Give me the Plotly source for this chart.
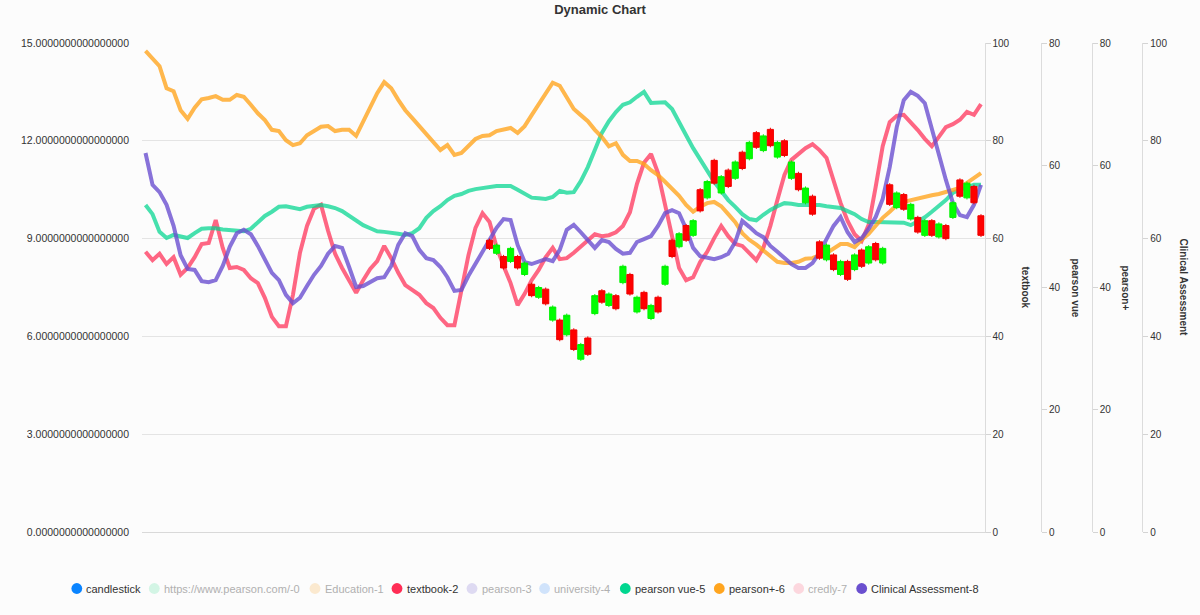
import plotly.graph_objects as go

# ---------------- data ----------------
categories = list(range(120))
candle_categories = categories[49:]

textbook = [57.3, 55.6, 56.9, 54.8, 56.2, 52.6, 54.0, 56.2, 58.9, 59.1,
            63.8, 58.1, 54.0, 54.2, 53.6, 51.9, 50.9, 47.9, 44.0, 42.1,
            42.1, 48.5, 57.1, 62.6, 66.1, 66.9, 61.6, 56.9, 54.0, 51.3,
            48.9, 51.5, 53.8, 55.4, 58.5, 56.0, 53.0, 50.5, 49.5, 48.5,
            46.8, 45.8, 43.8, 42.3, 42.3, 49.9, 56.6, 62.2, 65.2, 63.4,
            58.3, 54.4, 50.9, 46.4, 48.7, 51.5, 53.6, 56.2, 58.1, 55.8,
            56.0, 57.1, 58.3, 59.7, 60.9, 60.5, 60.7, 61.3, 62.6, 65.4,
            71.2, 75.5, 77.3, 73.4, 66.9, 59.7, 54.0, 51.5, 52.1, 55.2,
            57.3, 60.1, 62.6, 60.5, 58.9, 58.5, 57.1, 55.6, 58.1, 62.6,
            67.9, 73.0, 76.1, 77.3, 78.5, 79.3, 78.1, 76.5, 71.6, 67.3,
            63.6, 60.9, 59.5, 62.8, 70.6, 78.9, 83.8, 85.1, 85.3, 83.8,
            82.2, 80.4, 78.9, 80.8, 82.8, 83.4, 84.3, 85.9, 85.3, 87.5]

pearson_vue = [53.5, 52.0, 49.1, 48.1, 48.6, 48.3, 48.1, 48.9, 49.6, 49.7,
               49.7, 49.5, 49.4, 49.2, 49.2, 49.6, 50.7, 51.7, 52.4, 53.2,
               53.3, 53.0, 52.8, 53.2, 53.3, 53.5, 53.3, 53.0, 52.5, 51.7,
               50.9, 50.2, 49.7, 49.2, 49.1, 49.0, 48.8, 48.6, 48.9, 49.7,
               51.4, 52.5, 53.3, 54.3, 55.0, 55.3, 55.8, 56.1, 56.3, 56.4,
               56.6, 56.6, 56.6, 56.0, 55.3, 54.7, 54.6, 54.5, 54.8, 55.8,
               55.5, 55.6, 57.4, 59.7, 62.5, 65.3, 67.2, 68.7, 69.9, 70.3,
               71.2, 72.0, 70.2, 70.3, 70.3, 69.2, 66.9, 64.9, 62.8, 60.9,
               58.9, 57.3, 55.8, 54.3, 53.2, 52.0, 51.2, 51.0, 51.9, 52.7,
               53.3, 53.8, 53.7, 53.5, 53.5, 53.5, 53.5, 53.3, 53.2, 53.0,
               52.5, 52.0, 51.2, 50.7, 50.7, 50.7, 50.7, 50.7, 50.6, 50.2,
               50.9, 51.5, 52.4, 53.3, 54.3, 55.5, 56.0, 56.4, 56.8, 56.8]

pearson_plus = [78.7, 77.5, 76.2, 72.6, 72.1, 69.0, 67.6, 69.4, 70.8, 71.0,
                71.3, 70.7, 70.7, 71.5, 71.2, 69.9, 68.5, 67.4, 65.8, 65.6,
                64.1, 63.3, 63.6, 64.9, 65.6, 66.3, 66.4, 65.6, 65.8, 65.8,
                64.8, 67.1, 69.4, 71.8, 73.6, 72.6, 70.7, 69.0, 67.7, 66.4,
                65.3, 63.8, 62.5, 63.3, 61.7, 62.0, 63.1, 64.3, 64.8, 64.9,
                65.6, 65.8, 66.1, 65.3, 66.4, 68.2, 70.0, 71.8, 73.5, 73.0,
                71.0, 69.2, 68.2, 67.2, 65.8, 64.6, 63.1, 63.6, 61.7, 60.7,
                60.7, 60.2, 59.2, 58.4, 57.3, 56.1, 55.0, 53.5, 52.4, 53.2,
                53.8, 54.0, 53.3, 52.0, 50.7, 48.9, 47.8, 47.0, 46.1, 45.2,
                44.2, 44.0, 44.0, 44.2, 44.7, 44.8, 45.3, 45.6, 46.3, 47.1,
                47.1, 46.6, 47.8, 48.8, 50.1, 51.4, 52.4, 53.5, 54.0, 54.3,
                54.5, 54.8, 55.1, 55.3, 55.6, 56.0, 56.3, 57.1, 57.9, 58.7]

clinical = [77.5, 71.0, 69.5, 66.9, 62.6, 56.6, 53.8, 53.6, 51.3, 51.1,
            51.5, 54.4, 58.3, 61.1, 61.8, 60.9, 58.5, 55.8, 53.0, 51.5,
            48.5, 46.8, 47.9, 50.3, 52.6, 54.4, 56.9, 58.5, 58.1, 54.2,
            50.1, 50.3, 51.1, 51.9, 52.1, 54.4, 58.7, 61.1, 60.5, 57.7,
            56.0, 55.6, 54.2, 52.1, 49.3, 49.5, 52.4, 54.8, 57.1, 59.7,
            62.2, 64.0, 63.8, 58.7, 55.2, 54.8, 55.4, 55.8, 55.4, 57.7,
            61.8, 62.8, 61.3, 59.7, 58.1, 59.7, 59.3, 57.9, 56.9, 57.1,
            59.3, 59.9, 60.5, 62.6, 65.2, 65.8, 65.2, 62.0, 58.1, 56.4,
            56.2, 55.8, 56.2, 56.9, 59.3, 63.6, 62.4, 61.1, 60.3, 58.5,
            57.3, 56.0, 54.8, 54.0, 54.0, 55.0, 57.1, 59.9, 62.6, 64.4,
            61.3, 59.3, 60.1, 62.0, 64.4, 68.1, 74.6, 82.8, 88.3, 90.0,
            89.2, 87.7, 82.2, 76.7, 72.0, 67.3, 64.8, 64.4, 66.9, 71.0]

candle_open = [8.95, 8.55, 8.45, 8.30, 8.45, 7.90, 7.60, 7.20, 7.45, 6.50,
               6.50, 6.05, 6.20, 5.30, 5.95, 6.70, 7.40, 6.95, 7.25, 7.65,
               7.90, 6.75, 7.35, 6.55, 7.20, 7.60, 8.95, 8.75, 9.40, 9.10,
               10.50, 10.25, 11.40, 10.40, 11.10, 10.85, 11.65, 11.45, 12.25, 11.70,
               12.35, 11.50, 12.00, 10.85, 11.00, 10.10, 10.30, 8.90, 8.35, 8.50,
               7.90, 8.30, 8.05, 8.65, 8.25, 8.85, 8.25, 10.65, 9.95, 10.35,
               9.60, 9.65, 9.10, 9.55, 9.05, 9.40, 9.65, 10.80, 10.25, 10.60,
               9.70]
candle_close = [8.70, 8.80, 8.10, 8.70, 8.10, 8.25, 7.25, 7.50, 7.00, 6.90,
                5.90, 6.65, 5.60, 5.75, 5.45, 7.25, 7.05, 7.30, 6.85, 8.15,
                7.30, 7.20, 6.85, 6.95, 6.75, 8.15, 8.45, 9.15, 8.95, 9.55,
                9.85, 10.75, 10.70, 10.90, 10.60, 11.35, 11.15, 11.95, 11.80, 12.15,
                11.85, 11.95, 11.55, 11.35, 10.50, 10.55, 9.75, 8.40, 8.80, 8.05,
                8.30, 7.75, 8.50, 8.15, 8.75, 8.35, 8.70, 10.05, 10.40, 9.90,
                10.05, 9.20, 9.55, 9.10, 9.45, 9.00, 10.10, 10.30, 10.70, 10.10,
                9.10]
candle_high = [9.00, 8.85, 8.50, 8.75, 8.50, 8.30, 7.65, 7.55, 7.50, 6.95,
               6.55, 6.70, 6.25, 5.80, 6.00, 7.30, 7.45, 7.35, 7.30, 8.20,
               7.95, 7.25, 7.40, 7.00, 7.25, 8.20, 9.00, 9.20, 9.45, 9.60,
               10.55, 10.80, 11.45, 10.95, 11.15, 11.40, 11.70, 12.00, 12.30, 12.20,
               12.40, 12.00, 12.05, 11.40, 11.05, 10.60, 10.35, 8.95, 8.85, 8.55,
               8.35, 8.35, 8.55, 8.70, 8.80, 8.90, 8.75, 10.70, 10.45, 10.40,
               10.10, 9.70, 9.60, 9.60, 9.50, 9.45, 10.15, 10.85, 10.75, 10.65,
               9.75]
candle_low = [8.65, 8.50, 8.05, 8.25, 8.05, 7.85, 7.20, 7.15, 6.95, 6.45,
              5.85, 6.00, 5.55, 5.25, 5.40, 6.65, 7.00, 6.90, 6.80, 7.60,
              7.25, 6.70, 6.80, 6.50, 6.70, 7.55, 8.40, 8.70, 8.90, 9.05,
              9.80, 10.20, 10.65, 10.35, 10.55, 10.80, 11.10, 11.40, 11.75, 11.65,
              11.80, 11.45, 11.50, 10.80, 10.45, 10.05, 9.70, 8.35, 8.30, 8.00,
              7.85, 7.70, 8.00, 8.10, 8.20, 8.30, 8.20, 10.00, 9.90, 9.85,
              9.55, 9.15, 9.05, 9.05, 9.00, 8.95, 9.60, 10.25, 10.20, 10.05,
              9.05]

legend_names = ["candlestick", "https://www.pearson.com/-0", "Education-1", "textbook-2",
                "pearson-3", "university-4", "pearson vue-5", "pearson+-6", "credly-7",
                "Clinical Assessment-8"]
legend_active = [True, False, False, True, False, False, True, True, False, True]

# ---------------- styles / layout constants ----------------
legend_colors = ["#0a84ff", "#d3f5e5", "#fbe9cf", "#ff2d55", "#dedaf2", "#d0e3fb",
                 "#00d68f", "#ffa51f", "#fcd7de", "#6a4fcf"]
LEGEND_ICON_PX = [76.8, 154.3, 315.0, 397.0, 472.0, 544.6, 625.3, 719.3, 798.7, 861.7]
LEGEND_Y_PX = 588.5

W, H = 1200, 615
L, R, T, B = 142, 20, 43, 83
PLOT_RIGHT = 984.5
PW = W - L - R
PH = H - T - B


def px_x(px):
    return (px - L) / PW


def px_y(py):
    return (H - B - py) / PH


FONT = "Liberation Sans, Arial, Helvetica, sans-serif"

fig = go.Figure()

fig.add_trace(go.Scatter(x=categories, y=textbook, yaxis="y", mode="lines", name="textbook-2",
                         line=dict(color="rgba(255,45,85,0.72)", width=4), showlegend=False))
fig.add_trace(go.Scatter(x=categories, y=pearson_vue, yaxis="y2", mode="lines", name="pearson vue-5",
                         line=dict(color="rgba(0,214,143,0.72)", width=4), showlegend=False))
fig.add_trace(go.Scatter(x=categories, y=pearson_plus, yaxis="y3", mode="lines", name="pearson+-6",
                         line=dict(color="rgba(255,163,26,0.78)", width=4), showlegend=False))
fig.add_trace(go.Scatter(x=categories, y=clinical, yaxis="y4", mode="lines", name="Clinical Assessment-8",
                         line=dict(color="rgba(106,79,207,0.8)", width=4), showlegend=False))
fig.add_trace(go.Candlestick(x=candle_categories, open=candle_open, high=candle_high,
                             low=candle_low, close=candle_close, yaxis="y5", name="candlestick",
                             increasing=dict(line=dict(color="#00f000", width=1), fillcolor="#00ff00"),
                             decreasing=dict(line=dict(color="#f00000", width=1), fillcolor="#ff0000"),
                             whiskerwidth=0, showlegend=False))

right_axis = dict(showgrid=False, zeroline=False, showline=True, linecolor="#dcdcdc", linewidth=1,
                  ticks="outside", ticklen=5, tickcolor="#d4d4d4", dtick=20,
                  tickfont=dict(size=10, color="#333", family=FONT), fixedrange=True)

fig.update_layout(
    width=W, height=H,
    margin=dict(l=L, r=R, t=T, b=B),
    paper_bgcolor="#fcfcfc", plot_bgcolor="#fcfcfc",
    font=dict(family=FONT, size=10, color="#333"),
    showlegend=False,
    boxgap=0.08, boxgroupgap=0.05,
    title=dict(text="<b>Dynamic Chart</b>", x=0.5, xref="container", xanchor="center",
               y=1 - 9 / H, yref="container", yanchor="middle",
               font=dict(size=13, color="#333", family=FONT)),
    xaxis=dict(domain=[0, px_x(PLOT_RIGHT)], range=[-0.5, len(categories) - 0.5],
               showgrid=False, zeroline=False, showticklabels=False, ticks="",
               showline=True, linecolor="#d9d9d9", rangeslider=dict(visible=False), fixedrange=True),
    yaxis=dict(right_axis, range=[0, 100], side="right", anchor="x"),
    yaxis2=dict(right_axis, range=[0, 80], side="right", anchor="free", overlaying="y",
                position=px_x(1041)),
    yaxis3=dict(right_axis, range=[0, 80], side="right", anchor="free", overlaying="y",
                position=px_x(1091.7)),
    yaxis4=dict(right_axis, range=[0, 100], side="right", anchor="free", overlaying="y",
                position=px_x(1142.3)),
    yaxis5=dict(range=[0, 15], dtick=3, tickformat=".16f", side="left", anchor="x", overlaying="y",
                showgrid=True, gridcolor="#e4e4e4", gridwidth=1, zeroline=False, showline=False,
                ticks="", ticklabelstandoff=12, tickfont=dict(size=10.5, color="#333", family=FONT),
                fixedrange=True),
)

# axis titles (rotated, reading top to bottom)
axis_titles = [("textbook", 1025), ("pearson vue", 1075), ("pearson+", 1125), ("Clinical Assessment", 1183)]
for txt, xp in axis_titles:
    fig.add_annotation(text="<b>%s</b>" % txt, x=px_x(xp), y=0.5, xref="paper", yref="paper",
                       xanchor="center", yanchor="middle", textangle=90, showarrow=False,
                       font=dict(size=10, color="#333", family=FONT))

# legend drawn as circle markers + text
for name, col, active, cx in zip(legend_names, legend_colors, legend_active, LEGEND_ICON_PX):
    fig.add_shape(type="circle", xref="paper", yref="paper", xsizemode="pixel", ysizemode="pixel",
                  xanchor=px_x(cx), yanchor=px_y(LEGEND_Y_PX), x0=-5.4, x1=5.4, y0=-5.4, y1=5.4,
                  fillcolor=col, line=dict(width=0))
    fig.add_annotation(text=name, x=px_x(cx + 7.5), y=px_y(LEGEND_Y_PX), xref="paper", yref="paper",
                       xanchor="left", yanchor="middle", showarrow=False,
                       font=dict(size=11, color="#333" if active else "#b0b0b0", family=FONT))

fig.write_html("out.html")
